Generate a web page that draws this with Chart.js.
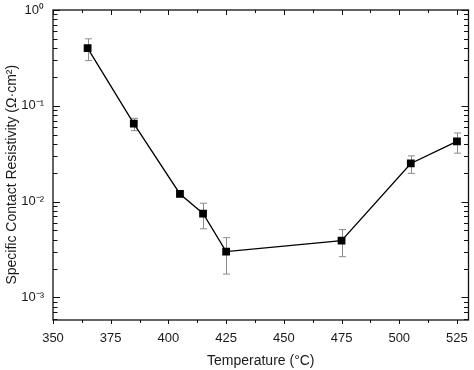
<!DOCTYPE html>
<html lang="en">
<head>
<meta charset="UTF-8">
<title>Specific Contact Resistivity vs Temperature</title>
<script src="https://cdn.jsdelivr.net/npm/chart.js"></script>
<style>
    html, body { margin: 0; padding: 0; background: #fff; }
    #chartContainer { width: 474px; height: 370px; }
</style>
</head>
<body>
<div id="chartContainer"><canvas id="chartCanvas" width="474" height="370"></canvas></div>
<script>
// data
const temperatures = [365, 385, 405, 415, 425, 475, 505, 525];
const resistivity  = [0.40, 0.065, 0.012, 0.0075, 0.0030, 0.0039, 0.025, 0.0425];
const errUpper     = [0.50, 0.074, 0.0128, 0.0096, 0.0042, 0.0051, 0.030, 0.052];
const errLower     = [0.296, 0.055, 0.0112, 0.0052, 0.00175, 0.00266, 0.0197, 0.032];

const xTickValues = [350, 375, 400, 425, 450, 475, 500, 525];
const yTickValues = [0.001, 0.01, 0.1, 1];
const yTickLabels = ['10⁻³', '10⁻²', '10⁻¹', '10⁰'];

const fontFamily = 'Arial, "Liberation Sans", sans-serif';
const textColor = '#1a1a1a';

// error bars under the markers, frame and inward ticks on top
const axisDecor = {
    id: 'axisDecor',
    beforeDatasetsDraw(chart) {
        const ctx = chart.ctx, x = chart.scales.x, y = chart.scales.y;
        ctx.save();
        ctx.strokeStyle = '#8c8c8c';
        ctx.lineWidth = 1;
        ctx.beginPath();
        temperatures.forEach((t, i) => {
            const px = Math.round(x.getPixelForValue(t)) + 0.5;
            const top = y.getPixelForValue(errUpper[i]);
            const bot = y.getPixelForValue(errLower[i]);
            ctx.moveTo(px, top); ctx.lineTo(px, bot);
            ctx.moveTo(px - 3.5, top); ctx.lineTo(px + 3.5, top);
            ctx.moveTo(px - 3.5, bot); ctx.lineTo(px + 3.5, bot);
        });
        ctx.stroke();
        ctx.restore();
    },
    afterDraw(chart) {
        const ctx = chart.ctx, x = chart.scales.x, y = chart.scales.y;
        const a = chart.chartArea;
        ctx.save();
        ctx.strokeStyle = '#111';
        ctx.lineWidth = 1.3;
        ctx.strokeRect(a.left, a.top, a.right - a.left, a.bottom - a.top);
        ctx.lineWidth = 1;
        ctx.beginPath();
        for (let v = 350; v <= x.max; v += 12.5) {
            const major = xTickValues.includes(v);
            const px = Math.round(x.getPixelForValue(v)) + 0.5;
            ctx.moveTo(px, a.bottom); ctx.lineTo(px, a.bottom + (major ? 4 : 3));
            ctx.moveTo(px, a.top); ctx.lineTo(px, a.top + (major ? 5 : 3));
        }
        for (let d = -4; d <= 0; d++) {
            for (let m = 1; m <= 9; m++) {
                const v = m * Math.pow(10, d);
                if (v < y.min || v > y.max) continue;
                const len = m === 1 ? 7 : 4.5;
                const py = Math.round(y.getPixelForValue(v)) + 0.5;
                ctx.moveTo(a.left, py); ctx.lineTo(a.left + len, py);
                ctx.moveTo(a.right, py); ctx.lineTo(a.right - len, py);
            }
        }
        ctx.stroke();
        ctx.restore();
    }
};

const ctx = document.getElementById('chartCanvas').getContext('2d');
new Chart(ctx, {
    type: 'line',
    data: {
        datasets: [{
            data: temperatures.map((t, i) => ({ x: t, y: resistivity[i] })),
            borderColor: '#000',
            borderWidth: 1.3,
            pointStyle: 'rect',
            pointRadius: 5.5,
            pointBackgroundColor: '#000',
            pointBorderWidth: 0,
            tension: 0
        }]
    },
    options: {
        responsive: false,
        animation: false,
        devicePixelRatio: 1,
        layout: { padding: { top: 10, right: 1, left: 0, bottom: 0 } },
        plugins: { legend: { display: false }, tooltip: { enabled: false } },
        scales: {
            x: {
                type: 'linear',
                min: 350,
                max: 530,
                afterFit(s) { s.height = 50; },
                afterBuildTicks(s) { s.ticks = xTickValues.map(v => ({ value: v })); },
                grid: { display: false },
                border: { display: false },
                ticks: {
                    color: textColor,
                    font: { family: fontFamily, size: 13 },
                    padding: 3,
                    maxRotation: 0,
                    autoSkip: false,
                    callback: v => String(v)
                },
                title: {
                    display: true,
                    text: 'Temperature (°C)',
                    color: textColor,
                    font: { family: fontFamily, size: 14 },
                    padding: { top: 0, bottom: 0 }
                }
            },
            y: {
                type: 'logarithmic',
                min: 0.00058,
                max: 1,
                afterFit(s) { s.width = 53; },
                afterBuildTicks(s) { s.ticks = yTickValues.map(v => ({ value: v })); },
                grid: { display: false },
                border: { display: false },
                ticks: {
                    color: textColor,
                    font: { family: fontFamily, size: 13 },
                    padding: 1,
                    autoSkip: false,
                    callback: v => yTickLabels[yTickValues.indexOf(v)]
                },
                title: {
                    display: true,
                    text: 'Specific Contact Resistivity (Ω·cm²)     ',
                    color: textColor,
                    font: { family: fontFamily, size: 14 },
                    padding: { top: 4, bottom: 4 }
                }
            }
        }
    },
    plugins: [axisDecor]
});
</script>
</body>
</html>
